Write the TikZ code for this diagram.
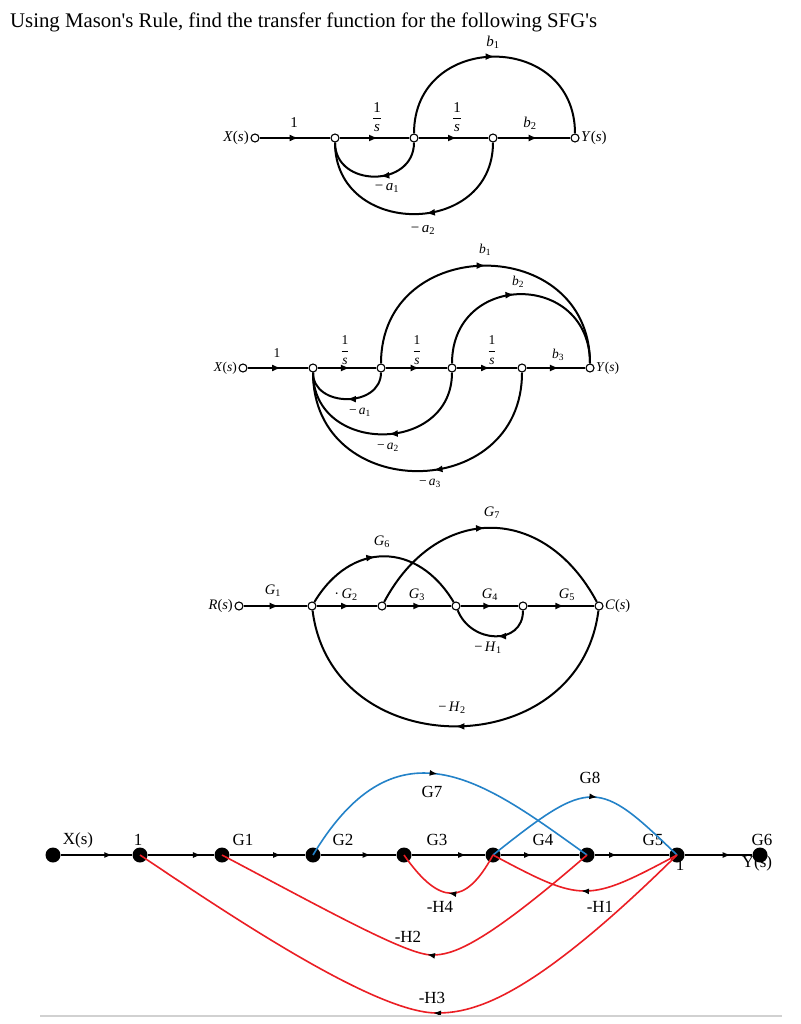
\documentclass[tikz,border=0pt]{standalone}
\usepackage{fontspec}
\setmainfont{Liberation Serif}
\newfontfamily\titlefont{Liberation Serif}
\usetikzlibrary{arrows.meta,decorations.markings}
\definecolor{sfgblue}{RGB}{35,130,200}
\definecolor{sfgred}{RGB}{235,30,36}
\newcommand{\fr}[1]{$\displaystyle\frac{\textrm{1}}{\textit{#1}}$}
\tikzset{
  onode/.style={circle,draw,line width=1.1pt,fill=white,inner sep=0pt,minimum size=8pt},
  bnode/.style={circle,fill=black,inner sep=0pt,minimum size=15pt},
  br/.style={line width=2pt},
  marr/.style={postaction={decorate},decoration={markings,mark=at position #1 with {\arrow{Latex[length=9pt,width=7pt]}}}},
  sarr/.style={postaction={decorate},decoration={markings,mark=at position #1 with {\arrow[black]{Latex[length=8pt,width=6pt]}}}},
  mainln/.style={line width=1.3pt},
  blueln/.style={line width=1.6pt,draw=sfgblue},
  redln/.style={line width=1.6pt,draw=sfgred},
  labA/.style={font=\fontsize{15}{17}\selectfont,inner sep=0pt},
  labB/.style={font=\fontsize{13.5}{15}\selectfont,inner sep=0pt},
  labC/.style={font=\fontsize{14.5}{16}\selectfont,inner sep=0pt},
  labD/.style={font=\fontsize{17}{19}\selectfont,inner sep=0pt},
}
\begin{document}
\begin{tikzpicture}[x=1pt,y=-1pt]
\useasboundingbox (0,0) rectangle (800,1024);
\fill[white] (0,0) rectangle (800,1024);

% title
\node[anchor=base west,inner sep=0pt,font=\titlefont\fontsize{20.8}{24}\selectfont] (title) at (10,28) {Using Mason's Rule, find the transfer function for the following SFG's};

% ---------------- Diagram 1 ----------------
\node[onode] (d1x) at (255,138) {};
\node[onode] (d1a) at (335,138) {};
\node[onode] (d1b) at (414,138) {};
\node[onode] (d1c) at (493,138) {};
\node[onode] (d1y) at (575,138) {};
\draw[br,marr=0.55] (d1x) -- (d1a);
\draw[br,marr=0.55] (d1a) -- (d1b);
\draw[br,marr=0.55] (d1b) -- (d1c);
\draw[br,marr=0.55] (d1c) -- (d1y);
\draw[br,marr=0.5] (d1b) .. controls +(0,-107) and +(0,-107) .. (d1y);
\draw[br,marr=0.45] (d1b) .. controls +(0,50) and +(0,50) .. (d1a);
\draw[br,marr=0.45] (d1c) .. controls +(0,100) and +(0,100) .. (d1a);
\node[labA,anchor=east] (d1lx) at (249,138) {\textit{X}(\textit{s})};
\node[labA,anchor=west] (d1ly) at (581,138) {\textit{Y}(\textit{s})};
\node[labA] (d1l1) at (294,123) {1};
\node[labA] (d1l2) at (377,117) {\fr{s}};
\node[labA] (d1l3) at (457,117) {\fr{s}};
\node[labA] (d1l4) at (530,123) {\textit{b}\textsubscript{2}};
\node[labA] (d1l5) at (493,42) {\textit{b}\textsubscript{1}};
\node[labA] (d1l6) at (387,188) {−\,\textit{a}\textsubscript{1}};
\node[labA] (d1l7) at (423,230) {−\,\textit{a}\textsubscript{2}};

% ---------------- Diagram 2 ----------------
\node[onode] (d2x) at (243,368) {};
\node[onode] (d2a) at (313,368) {};
\node[onode] (d2b) at (381,368) {};
\node[onode] (d2c) at (452,368) {};
\node[onode] (d2d) at (522,368) {};
\node[onode] (d2y) at (590,368) {};
\draw[br,marr=0.55] (d2x) -- (d2a);
\draw[br,marr=0.55] (d2a) -- (d2b);
\draw[br,marr=0.55] (d2b) -- (d2c);
\draw[br,marr=0.55] (d2c) -- (d2d);
\draw[br,marr=0.55] (d2d) -- (d2y);
\draw[br,marr=0.5] (d2b) .. controls +(0,-135) and +(0,-135) .. (d2y);
\draw[br,marr=0.47] (d2c) .. controls +(0,-97) and +(0,-97) .. (d2y);
\draw[br,marr=0.5] (d2b) .. controls +(0,40) and +(0,40) .. (d2a);
\draw[br,marr=0.47] (d2c) .. controls +(0,87) and +(0,87) .. (d2a);
\draw[br,marr=0.45] (d2d) .. controls +(0,136) and +(0,136) .. (d2a);
\node[labB,anchor=east] (d2lx) at (237,368) {\textit{X}(\textit{s})};
\node[labB,anchor=west] (d2ly) at (596,368) {\textit{Y}(\textit{s})};
\node[labB] (d2l1) at (277,353) {1};
\node[labB] (d2l2) at (345,350) {\fr{s}};
\node[labB] (d2l3) at (417,350) {\fr{s}};
\node[labB] (d2l4) at (492,350) {\fr{s}};
\node[labB] (d2l5) at (558,355) {\textit{b}\textsubscript{3}};
\node[labB] (d2l6) at (485,250) {\textit{b}\textsubscript{1}};
\node[labB] (d2l7) at (518,282) {\textit{b}\textsubscript{2}};
\node[labB] (d2l8) at (360,412) {−\,\textit{a}\textsubscript{1}};
\node[labB] (d2l9) at (388,447) {−\,\textit{a}\textsubscript{2}};
\node[labB] (d2l10) at (430,483) {−\,\textit{a}\textsubscript{3}};

% ---------------- Diagram 3 ----------------
\node[onode] (d3r) at (239,606) {};
\node[onode] (d3a) at (312,606) {};
\node[onode] (d3b) at (382,606) {};
\node[onode] (d3c) at (456,606) {};
\node[onode] (d3d) at (523,606) {};
\node[onode] (d3o) at (599,606) {};
\draw[br,marr=0.55] (d3r) -- (d3a);
\draw[br,marr=0.55] (d3a) -- (d3b);
\draw[br,marr=0.55] (d3b) -- (d3c);
\draw[br,marr=0.55] (d3c) -- (d3d);
\draw[br,marr=0.55] (d3d) -- (d3o);
\draw[br,marr=0.45] (d3a) .. controls +(39,-65) and +(-39,-65) .. (d3c);
\draw[br,marr=0.48] (d3b) .. controls +(55,-103) and +(-55,-103) .. (d3o);
\draw[br,marr=0.45] (d3d) .. controls +(0,40) and +(15,38) .. (d3c);
\draw[br,marr=0.5] (d3o) .. controls +(-20,159) and +(20,159) .. (d3a);
\node[labC,anchor=east] (d3lr) at (233,606) {\textit{R}(\textit{s})};
\node[labC,anchor=west] (d3lc) at (605,606) {\textit{C}(\textit{s})};
\node[labC] (d3l1) at (273,591) {\textit{G}\textsubscript{1}};
\node[labC] (d3l2) at (346,595) {·\,\textit{G}\textsubscript{2}};
\node[labC] (d3l3) at (417,595) {\textit{G}\textsubscript{3}};
\node[labC] (d3l4) at (490,595) {\textit{G}\textsubscript{4}};
\node[labC] (d3l5) at (567,595) {\textit{G}\textsubscript{5}};
\node[labC] (d3l6) at (382,542) {\textit{G}\textsubscript{6}};
\node[labC] (d3l7) at (492,513) {\textit{G}\textsubscript{7}};
\node[labC] (d3l8) at (488,648) {−\,\textit{H}\textsubscript{1}};
\node[labC] (d3l9) at (452,708) {−\,\textit{H}\textsubscript{2}};

% ---------------- Diagram 4 ----------------
\node[labD] (d4l0) at (78,840) {X(s)};
\node[labD] (d4l1) at (138,840) {1};
\node[labD] (d4l2) at (243,840) {G1};
\node[labD] (d4l3) at (343,840) {G2};
\node[labD] (d4l4) at (437,840) {G3};
\node[labD] (d4l5) at (543,840) {G4};
\node[labD] (d4l6) at (653,840) {G5};
\node[labD] (d4l7) at (762,840) {G6};
\node[labD] (d4l8) at (757,863) {Y(s)};
\node[labD] (d4l9) at (680,865) {1};
\node[labD] (d4l10) at (432,792) {G7};
\node[labD] (d4l11) at (590,778) {G8};
\node[labD] (d4l12) at (440,907) {-H4};
\node[labD] (d4l13) at (600,907) {-H1};
\node[labD] (d4l14) at (408,937) {-H2};
\node[labD] (d4l15) at (432,998) {-H3};

\node[bnode] (n0) at (53,855) {};
\node[bnode] (n1) at (140,855) {};
\node[bnode] (n2) at (222,855) {};
\node[bnode] (n3) at (313,855) {};
\node[bnode] (n4) at (404,855) {};
\node[bnode] (n5) at (493,855) {};
\node[bnode] (n6) at (587,855) {};
\node[bnode] (n7) at (677,855) {};
\node[bnode] (n8) at (760,855) {};
\coordinate (bh2) at (432,955);
\coordinate (bh3) at (437,1013);

\draw[mainln,sarr=0.72] (n0) -- (n1);
\draw[mainln,sarr=0.8] (n1) -- (n2);
\draw[mainln,sarr=0.68] (n2) -- (n3);
\draw[mainln,sarr=0.66] (n3) -- (n4);
\draw[mainln,sarr=0.74] (n4) -- (n5);
\draw[mainln,sarr=0.4] (n5) -- (n6);
\draw[mainln,sarr=0.3] (n6) -- (n7);
\draw[mainln,sarr=0.68] (n7) -- (n8);

\draw[blueln,sarr=0.48] (n3.center) .. controls (398.5,712.7) and (488,784.4) .. (n6.center);
\draw[blueln,sarr=0.55] (n5.center) .. controls (591,777) and (597.7,778.3) .. (n7.center);
\draw[redln,sarr=0.51] (n5.center) .. controls +(-28,52) and +(35,50) .. (n4.center);
\draw[redln,sarr=0.52] (n7.center) .. controls +(-90,48) and +(90,48) .. (n5.center);
\draw[redln,sarr=0.457] (n6.center) .. controls (481,947) and (452,955) .. (bh2)
      .. controls (407,955) and (328,911) .. (n2.center);
\draw[redln,sarr=0.47] (n7.center) .. controls (535,995) and (477,1013) .. (bh3)
      .. controls (377,1013) and (239.5,922) .. (n1.center);

\draw[line width=1.5pt,black!18] (40,1016) -- (782,1016);
\end{tikzpicture}
\end{document}
